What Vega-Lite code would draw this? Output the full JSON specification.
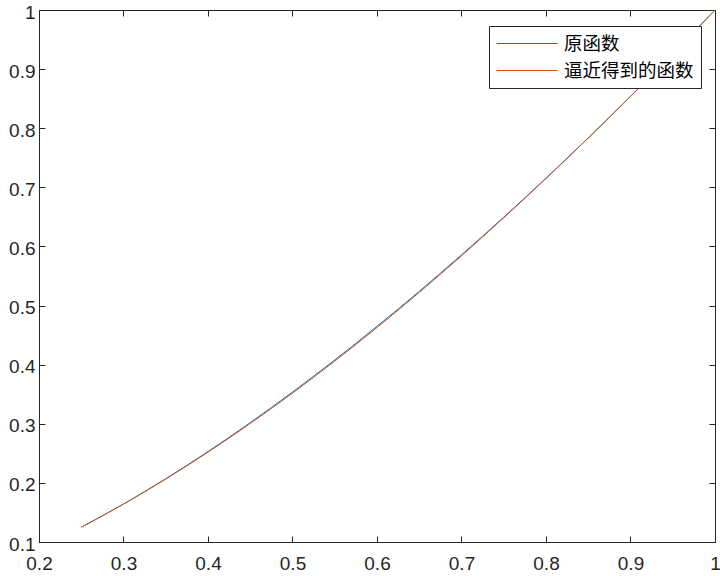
{
  "$schema": "https://vega.github.io/schema/vega-lite/v6.json",
  "autosize": "none",
  "width": 676,
  "height": 532,
  "padding": {"left": 39, "top": 10, "right": 5, "bottom": 34},
  "background": "white",
  "config": {
    "view": {"stroke": "#262626", "strokeWidth": 1},
    "font": "Liberation Sans",
    "axis": {
      "grid": false,
      "domainColor": "#262626",
      "tickColor": "#262626",
      "labelColor": "#262626",
      "labelFont": "Liberation Sans",
      "labelFontSize": 19,
      "labelFlush": false,
      "labelOverlap": false,
      "tickSize": -6,
      "title": null
    }
  },
  "data": {
    "values": [
      {"x": 0.25, "y": 0.125, "s": "原函数"},
      {"x": 0.30, "y": 0.1643, "s": "原函数"},
      {"x": 0.35, "y": 0.2071, "s": "原函数"},
      {"x": 0.40, "y": 0.2530, "s": "原函数"},
      {"x": 0.45, "y": 0.3019, "s": "原函数"},
      {"x": 0.50, "y": 0.3536, "s": "原函数"},
      {"x": 0.55, "y": 0.4079, "s": "原函数"},
      {"x": 0.60, "y": 0.4648, "s": "原函数"},
      {"x": 0.65, "y": 0.5240, "s": "原函数"},
      {"x": 0.70, "y": 0.5857, "s": "原函数"},
      {"x": 0.75, "y": 0.6495, "s": "原函数"},
      {"x": 0.80, "y": 0.7155, "s": "原函数"},
      {"x": 0.85, "y": 0.7837, "s": "原函数"},
      {"x": 0.90, "y": 0.8538, "s": "原函数"},
      {"x": 0.95, "y": 0.9259, "s": "原函数"},
      {"x": 1.00, "y": 1.0, "s": "原函数"},
      {"x": 0.25, "y": 0.125, "s": "逼近得到的函数"},
      {"x": 0.30, "y": 0.1640, "s": "逼近得到的函数"},
      {"x": 0.35, "y": 0.2064, "s": "逼近得到的函数"},
      {"x": 0.40, "y": 0.2520, "s": "逼近得到的函数"},
      {"x": 0.45, "y": 0.3005, "s": "逼近得到的函数"},
      {"x": 0.50, "y": 0.3518, "s": "逼近得到的函数"},
      {"x": 0.55, "y": 0.4060, "s": "逼近得到的函数"},
      {"x": 0.60, "y": 0.4628, "s": "逼近得到的函数"},
      {"x": 0.65, "y": 0.5222, "s": "逼近得到的函数"},
      {"x": 0.70, "y": 0.5842, "s": "逼近得到的函数"},
      {"x": 0.75, "y": 0.6485, "s": "逼近得到的函数"},
      {"x": 0.80, "y": 0.7149, "s": "逼近得到的函数"},
      {"x": 0.85, "y": 0.7834, "s": "逼近得到的函数"},
      {"x": 0.90, "y": 0.8537, "s": "逼近得到的函数"},
      {"x": 0.95, "y": 0.9259, "s": "逼近得到的函数"},
      {"x": 1.00, "y": 1.0, "s": "逼近得到的函数"}
    ]
  },
  "layer": [
    {
      "mark": {"type": "line", "strokeWidth": 1, "interpolate": "monotone"},
      "encoding": {
        "x": {"field": "x", "type": "quantitative", "scale": {"domain": [0.2, 1], "nice": false, "zero": false},
              "axis": {"orient": "bottom", "values": [0.2,0.3,0.4,0.5,0.6,0.7,0.8,0.9,1], "format": "~g", "labelPadding": 18}},
        "y": {"field": "y", "type": "quantitative", "scale": {"domain": [0.1, 1], "nice": false, "zero": false},
              "axis": {"orient": "left", "values": [0.1,0.2,0.3,0.4,0.5,0.6,0.7,0.8,0.9,1], "format": "~g", "labelPadding": 10, "labelOffset": 2}},
        "color": {"field": "s", "type": "nominal",
          "scale": {"domain": ["原函数", "逼近得到的函数"], "range": ["#0072BD", "#D95319"]},
          "legend": {
            "title": null, "orient": "none", "legendX": 450, "legendY": 16,
            "symbolType": "stroke", "symbolSize": 3721, "symbolStrokeWidth": 1,
            "labelFont": "Noto Sans CJK SC", "labelFontSize": 18.5, "labelColor": "#000000",
            "strokeColor": "#262626", "fillColor": "white", "padding": 7, "rowPadding": 6,
            "clipHeight": 21,
            "labelOffset": 6, "symbolOffset": 0
          }
        },
        "order": {"field": "x", "type": "quantitative"}
      }
    },
    {
      "mark": {"type": "line", "opacity": 0},
      "encoding": {
        "x": {"field": "x", "type": "quantitative", "scale": {"domain": [0.2, 1], "nice": false, "zero": false},
              "axis": {"orient": "top", "values": [0.2,0.3,0.4,0.5,0.6,0.7,0.8,0.9,1], "labels": false, "domain": false}},
        "y": {"field": "y", "type": "quantitative", "scale": {"domain": [0.1, 1], "nice": false, "zero": false},
              "axis": {"orient": "right", "values": [0.1,0.2,0.3,0.4,0.5,0.6,0.7,0.8,0.9,1], "labels": false, "domain": false}},
        "detail": {"field": "s", "type": "nominal"}
      }
    }
  ],
  "resolve": {"axis": {"x": "independent", "y": "independent"}}
}
